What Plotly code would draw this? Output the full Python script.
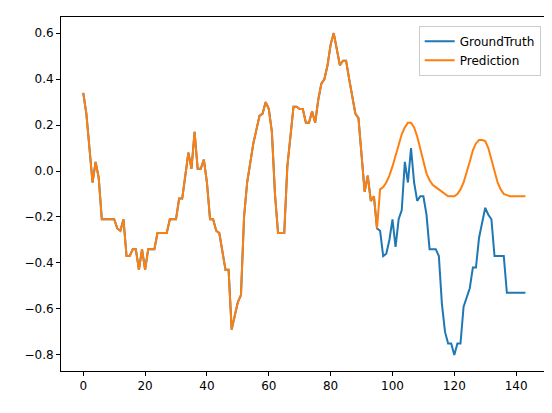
import plotly.graph_objects as go

# shared history (ground truth == prediction up to index 95)
shared = [0.34, 0.25, 0.10, -0.05, 0.04, -0.03, -0.21, -0.21, -0.21, -0.21,
          -0.21, -0.25, -0.26, -0.21, -0.37, -0.37, -0.34, -0.34, -0.43, -0.34,
          -0.43, -0.34, -0.34, -0.34, -0.27, -0.27, -0.27, -0.27, -0.21, -0.21,
          -0.21, -0.12, -0.12, -0.02, 0.08, 0.01, 0.17, 0.01, 0.01, 0.05,
          -0.05, -0.21, -0.21, -0.26, -0.27, -0.35, -0.43, -0.43, -0.69, -0.63,
          -0.57, -0.54, -0.20, -0.05, 0.03, 0.12, 0.18, 0.24, 0.25, 0.30,
          0.27, 0.17, -0.10, -0.27, -0.27, -0.27, 0.02, 0.14, 0.28, 0.28,
          0.27, 0.27, 0.21, 0.21, 0.26, 0.21, 0.31, 0.38, 0.40, 0.46,
          0.55, 0.60, 0.53, 0.46, 0.48, 0.48, 0.40, 0.33, 0.25, 0.23,
          0.07, -0.09, -0.02, -0.13, -0.11, -0.25]

truth_tail = [-0.26, -0.37, -0.36, -0.30, -0.21, -0.33, -0.21, -0.17, 0.04, -0.05,
              0.10, -0.05, -0.13, -0.11, -0.11, -0.19, -0.34, -0.34, -0.34, -0.37,
              -0.58, -0.70, -0.75, -0.75, -0.80, -0.75, -0.75, -0.59, -0.55, -0.51,
              -0.42, -0.42, -0.29, -0.22, -0.16, -0.19, -0.21, -0.37, -0.37, -0.37,
              -0.37, -0.53, -0.53, -0.53, -0.53, -0.53, -0.53, -0.53]

pred_tail = [-0.08, -0.07, -0.05, -0.02, 0.02, 0.07, 0.12, 0.16, 0.19, 0.21,
             0.21, 0.19, 0.15, 0.10, 0.04, -0.01, -0.04, -0.06, -0.07, -0.08,
             -0.09, -0.10, -0.11, -0.11, -0.11, -0.10, -0.08, -0.05, -0.01, 0.04,
             0.09, 0.12, 0.135, 0.135, 0.13, 0.10, 0.05, 0.00, -0.05, -0.08,
             -0.10, -0.105, -0.11, -0.11, -0.11, -0.11, -0.11, -0.11]

ground_truth = shared + truth_tail
prediction = shared + pred_tail

x_ticks = [0, 20, 40, 60, 80, 100, 120, 140]
y_ticks = [-0.8, -0.6, -0.4, -0.2, 0.0, 0.2, 0.4, 0.6]

fig = go.Figure()
fig.add_trace(go.Scatter(x=list(range(len(ground_truth))), y=ground_truth,
                         name='GroundTruth', mode='lines',
                         line=dict(color='#1f77b4', width=2)))
fig.add_trace(go.Scatter(x=list(range(len(prediction))), y=prediction,
                         name='Prediction', mode='lines',
                         line=dict(color='#ff7f0e', width=2)))

axis_style = dict(showline=True, linecolor='black', linewidth=1, mirror=True,
                  showgrid=False, zeroline=False, ticks='outside', ticklen=4,
                  tickcolor='black')

fig.update_layout(
    width=552, height=413,
    margin=dict(l=53, r=12, t=9, b=50),
    plot_bgcolor='white', paper_bgcolor='white',
    font=dict(family='DejaVu Sans', size=12, color='black'),
    xaxis=dict(range=[-7.2, 150.3], tickvals=x_ticks, **axis_style),
    yaxis=dict(range=[-0.87, 0.67], tickvals=y_ticks,
               ticktext=[f"{v:.1f}".replace('-', '\u2212') for v in y_ticks],
               **axis_style),
    legend=dict(x=0.985, y=0.975, xanchor='right', yanchor='top',
                bordercolor='#cccccc', borderwidth=1, bgcolor='white',
                font=dict(size=12)),
)

fig.write_html("out.html")
